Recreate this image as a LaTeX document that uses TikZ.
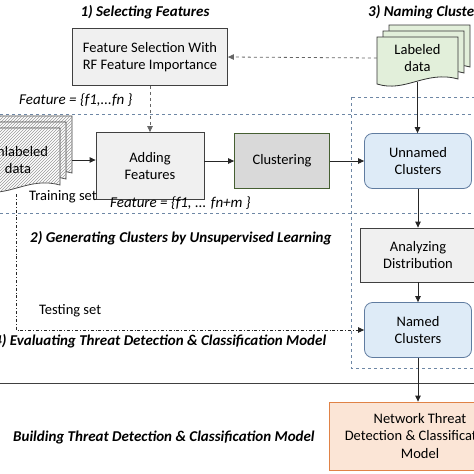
\documentclass[tikz,border=0pt]{standalone}
\usepackage{fontspec}
\setmainfont{Carlito}
\usetikzlibrary{arrows.meta,patterns}
\definecolor{boxgray}{RGB}{240,240,240}
\definecolor{clusgray}{RGB}{217,217,217}
\definecolor{clusedge}{RGB}{70,95,50}
\definecolor{bluefill}{RGB}{222,235,247}
\definecolor{blueedge}{RGB}{96,124,160}
\definecolor{greenfill}{RGB}{226,239,218}
\definecolor{orangefill}{RGB}{251,229,214}
\definecolor{orangeedge}{RGB}{224,130,70}
\definecolor{secblue}{RGB}{110,135,165}

% x, top y, width, height, style
\newcommand{\docstack}[5]{%
  \foreach \s in {12,6,0}
    \draw[#5] (#1+\s,#2-\s) -- (#1+#3+\s,#2-\s) -- (#1+#3+\s,#2+#4-\s-5)
      .. controls (#1+0.6*#3+\s,#2+#4-\s-14) and (#1+0.35*#3+\s,#2+#4-\s+9) .. (#1+\s,#2+#4-\s) -- cycle;
}

\begin{document}
\begin{tikzpicture}[x=1pt,y=-1pt,font=\fontsize{14.5}{17.5}\selectfont,
  stepbox/.style={draw=black!75,fill=boxgray,thick,align=center},
  clusterbox/.style={draw=blueedge,fill=bluefill,thick,rounded corners=8pt,align=center,minimum width=107pt,minimum height=55pt},
  phase/.style={font=\fontsize{15}{18}\selectfont\bfseries\itshape,anchor=west,inner sep=0pt},
  note/.style={font=\fontsize{15}{18}\selectfont\itshape,anchor=west,inner sep=0pt},
  flow/.style={-{Triangle[length=6pt,width=5.5pt]},thick,black!85},
  hint/.style={flow,dashed,black!60},
  secline/.style={dashed,secblue,thick}]
\useasboundingbox (0,0) rectangle (474,474);

\draw[secline] (0,114) -- (474,114);
\draw[secline] (0,213) -- (474,213);
\draw[secline] (351,97) rectangle (490,368);
\draw[black!75,thick] (0,383) -- (474,383);

\docstack{-20}{128}{80}{62}{draw=black!75,thick,fill=white,postaction={pattern=north east lines,pattern color=black!40}}
\docstack{377}{37}{81}{47}{draw=black!80,thick,fill=greenfill}

\node[align=center] (unlab) at (18,160) {Unlabeled\\data};
\node[align=center,minimum width=81pt,minimum height=47pt] (lab) at (417.5,58) {Labeled\\data};
\node[stepbox,minimum width=155pt,minimum height=57pt] (fsel) at (150,57) {Feature Selection With\\RF Feature Importance};
\node[stepbox,minimum width=108pt,minimum height=67pt] (add) at (150,166) {Adding\\Features};
\node[stepbox,draw=clusedge,fill=clusgray,minimum width=95pt,minimum height=55pt] (clus) at (282,161) {Clustering};
\node[clusterbox] (unn) at (418,161) {Unnamed\\Clusters};
\node[stepbox,minimum width=116pt,minimum height=54pt] (ana) at (418,255) {Analyzing\\Distribution};
\node[clusterbox] (nam) at (418,330) {Named\\Clusters};
\node[stepbox,draw=orangeedge,fill=orangefill,minimum width=182pt,minimum height=68pt] (net) at (420,436) {Network Threat\\Detection \& Classification\\Model};

\node[phase,anchor=center] (sel) at (145,12) {1) Selecting Features};
\node[phase] (nming) at (368,12) {3) Naming Clusters};
\node[note] (feat) at (19,100) {Feature = \{f1,...fn \}};
\node[anchor=west,inner sep=0pt] (train) at (29,197) {Training set};
\node[note] (featm) at (110,203) {Feature = \{f1, ... fn+m \}};
\node[phase] (gen) at (30,238) {2) Generating Clusters by Unsupervised Learning};
\node[anchor=west,inner sep=0pt] (test) at (39,311) {Testing set};
\node[phase] (eval) at (-6,341) {4) Evaluating Threat Detection \& Classification Model};
\node[phase] (build) at (13,437) {Building Threat Detection \& Classification Model};

\coordinate (unlabr) at (72,160);
\coordinate (unlabb) at (16,194);

\draw[hint] (lab.west) -- (fsel.east);
\draw[hint] (fsel.south) -- (add.north);
\draw[flow] (lab.south) -- (lab.south |- unn.north);
\draw[flow] (unlabr) -- (unlabr -| add.west);
\draw[flow] (add.east |- clus.west) -- (clus.west);
\draw[flow] (clus.east) -- (unn.west);
\draw[flow] (unn.south) -- (ana.north);
\draw[flow] (ana.south) -- (nam.north);
\draw[flow] (nam.south) -- (nam.south |- net.north);
\draw[flow,dash dot] (unlabb) |- (nam.west);
\end{tikzpicture}
\end{document}
